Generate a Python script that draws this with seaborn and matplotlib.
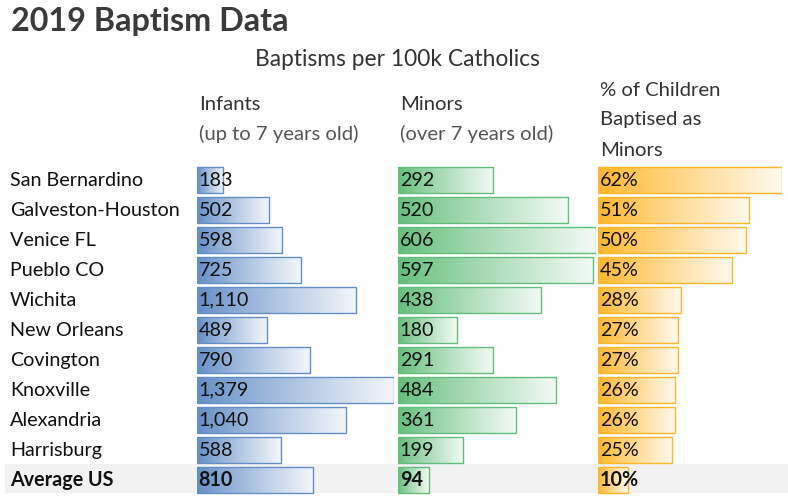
import numpy as np
import pandas as pd
import matplotlib
matplotlib.use("Agg")
import matplotlib.pyplot as plt
import matplotlib.transforms as mtransforms
from matplotlib.patches import Rectangle
from matplotlib.colors import to_rgb
import seaborn as sns

# ---------------- data ----------------
dioceses = ["San Bernardino", "Galveston-Houston", "Venice FL", "Pueblo CO", "Wichita",
            "New Orleans", "Covington", "Knoxville", "Alexandria", "Harrisburg", "Average US"]
infants = [183, 502, 598, 725, 1110, 489, 790, 1379, 1040, 588, 810]
minors = [292, 520, 606, 597, 438, 180, 291, 484, 361, 199, 94]
pct_minors = [62, 51, 50, 45, 28, 27, 27, 26, 26, 25, 10]

title = "2019 Baptism Data"
subtitle = "Baptisms per 100k Catholics"

df = pd.DataFrame({"diocese": dioceses, "infants": infants,
                   "minors": minors, "pct": pct_minors})

sns.set_theme(style="white")
plt.rcParams['font.family'] = ['Lato', 'DejaVu Sans']

W, H = 788, 498
fig = plt.figure(figsize=(W / 100, H / 100), dpi=100)
fig.patch.set_facecolor("white")


def px_axes(left, top, width, height):
    return fig.add_axes([left / W, 1 - (top + height) / H, width / W, height / H])


def fy(y):
    return 1 - y / H


# highlight band for Average US row
band = Rectangle((5 / W, fy(493)), (788 - 5) / W, 29 / H,
                 transform=fig.transFigure, facecolor="#f2f2f2",
                 edgecolor="none", zorder=-5)
fig.patches.append(band)

TXT = "#111111"
FS = 14.2

cols = [
    ("infants", 197, 197, "#638EC6", lambda v: f"{v:,}"),
    ("minors", 398, 198, "#63BE7B", lambda v: f"{v:,}"),
    ("pct", 598, 184, "#FFB628", lambda v: f"{v}%"),
]

top, rows_h = 165, 30 * len(dioceses)
n = len(dioceses)
first_ax = None
for col, left, width, color, fmt in cols:
    ax = px_axes(left, top, width, rows_h)
    ax.patch.set_alpha(0)
    sns.barplot(data=df, x=col, y="diocese", ax=ax, orient="h", color=color,
                saturation=1, width=0.87)
    base = np.array(to_rgb(color))
    grad = np.linspace(0, 1, 256)[:, None] ** 0.9
    light = base + (1 - base) * 0.92
    img = (base[None, :] * (1 - grad) + light[None, :] * grad)[None, :, :]
    for p in ax.patches:
        x0, y0 = p.get_x(), p.get_y()
        w, h = p.get_width(), p.get_height()
        im = ax.imshow(img, extent=(x0, x0 + w, y0 + h, y0), aspect="auto",
                       interpolation="bilinear", zorder=1)
        im.set_clip_path(p)
        p.set_facecolor("none")
        p.set_edgecolor(color)
        p.set_linewidth(1.0)
        p.set_zorder(2)
    vmax = df[col].max()
    ax.set_xlim(0, vmax)
    ax.set_ylim(n - 0.5, -0.5)
    tr = mtransforms.offset_copy(ax.transData, fig=fig, x=1.2, y=0, units="points")
    for i, v in enumerate(df[col]):
        ax.text(0, i, fmt(v), transform=tr, ha="left", va="center", fontsize=FS,
                color=TXT, fontweight="bold" if i == n - 1 else "normal", zorder=3,
                clip_on=False)
    ax.set_axis_off()
    if first_ax is None:
        first_ax = ax

# row labels
bt = mtransforms.blended_transform_factory(fig.transFigure, first_ax.transData)
for i, d in enumerate(dioceses):
    first_ax.text(10 / W, i, d, transform=bt, ha="left", va="center", fontsize=FS,
                  color=TXT, fontweight="bold" if i == n - 1 else "normal",
                  clip_on=False)

# titles and headers
fig.text(11 / W, fy(22), title, fontsize=23.3, fontweight="bold", color="#3a3a3a",
         ha="left", va="center")
fig.text(397 / W, fy(60), subtitle, fontsize=16.4, color="#333333", ha="center", va="center")
HC = "#333333"
SC = "#555555"
HFS = 14.6
fig.text(199 / W, fy(104), "Infants", fontsize=HFS, color=HC, ha="left", va="center")
fig.text(199 / W, fy(134), "(up to 7 years old)", fontsize=HFS, color=SC, ha="left", va="center")
fig.text(400 / W, fy(104), "Minors", fontsize=HFS, color=HC, ha="left", va="center")
fig.text(400 / W, fy(134), "(over 7 years old)", fontsize=HFS, color=SC, ha="left", va="center")
fig.text(600 / W, fy(90), "% of Children", fontsize=HFS, color=HC, ha="left", va="center")
fig.text(600 / W, fy(120), "Baptised as", fontsize=HFS, color=HC, ha="left", va="center")
fig.text(600 / W, fy(150), "Minors", fontsize=HFS, color=HC, ha="left", va="center")

fig.savefig("out.png", dpi=100)
